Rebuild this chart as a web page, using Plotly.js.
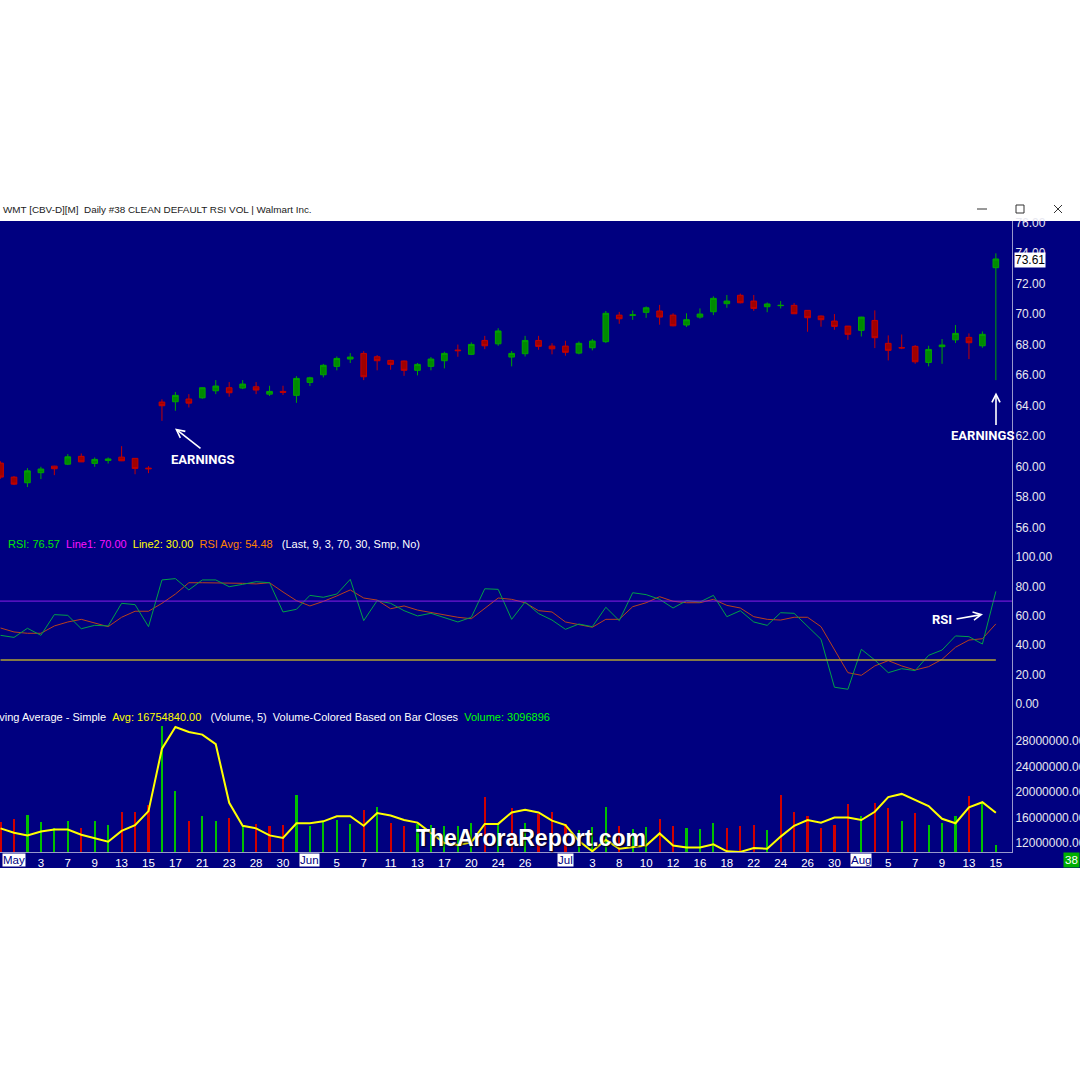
<!DOCTYPE html>
<html>
<head>
<meta charset="utf-8">
<script src="https://cdn.plot.ly/plotly-3.0.1.min.js"></script>
<style>
html,body{margin:0;padding:0;background:#ffffff;}
#chart{width:1080px;height:1080px;}
</style>
</head>
<body>
<div id="chart"></div>
<script>
// ---------------- DATA ----------------
const dates = [
 "2024-04-30","2024-05-01","2024-05-02","2024-05-03","2024-05-06","2024-05-07","2024-05-08","2024-05-09","2024-05-10",
 "2024-05-13","2024-05-14","2024-05-15","2024-05-16","2024-05-17","2024-05-20","2024-05-21","2024-05-22","2024-05-23","2024-05-24",
 "2024-05-28","2024-05-29","2024-05-30","2024-05-31","2024-06-03","2024-06-04","2024-06-05","2024-06-06","2024-06-07",
 "2024-06-10","2024-06-11","2024-06-12","2024-06-13","2024-06-14","2024-06-17","2024-06-18","2024-06-20","2024-06-21",
 "2024-06-24","2024-06-25","2024-06-26","2024-06-27","2024-06-28","2024-07-01","2024-07-02","2024-07-03","2024-07-05",
 "2024-07-08","2024-07-09","2024-07-10","2024-07-11","2024-07-12","2024-07-15","2024-07-16","2024-07-17","2024-07-18","2024-07-19",
 "2024-07-22","2024-07-23","2024-07-24","2024-07-25","2024-07-26","2024-07-29","2024-07-30","2024-07-31","2024-08-01","2024-08-02",
 "2024-08-05","2024-08-06","2024-08-07","2024-08-08","2024-08-09","2024-08-12","2024-08-13","2024-08-14","2024-08-15"
];
const openP  = [60.23,59.31,58.94,59.60,60.03,60.16,60.67,60.21,60.40,60.62,60.54,59.90,64.23,64.25,64.43,64.51,64.97,65.17,65.15,65.23,64.75,64.93,64.67,65.52,66.02,66.57,67.05,67.42,67.20,66.96,66.92,66.31,66.57,66.94,67.64,67.36,68.27,68.05,67.18,67.40,68.27,67.90,67.90,67.44,67.79,68.19,69.93,69.91,70.11,70.20,69.93,69.28,69.80,70.15,70.68,71.23,70.85,70.48,70.55,70.57,70.24,69.87,69.54,69.21,68.93,69.58,68.08,67.80,67.88,66.83,67.86,68.31,68.47,67.92,73.04];
const highP  = [60.35,59.38,59.90,59.99,60.05,60.82,60.86,60.60,60.60,61.34,60.56,60.03,64.41,64.89,64.75,65.20,65.67,65.54,65.67,65.54,65.30,65.30,65.93,65.89,66.73,67.22,67.44,67.57,67.31,67.00,66.95,66.79,67.18,67.53,68.00,68.14,68.57,69.07,67.57,68.57,68.57,68.09,68.25,68.20,68.36,70.20,70.14,70.23,70.50,70.60,70.05,70.05,70.37,71.16,71.25,71.34,71.25,70.76,70.85,70.72,70.24,69.90,70.00,69.22,69.82,70.24,68.60,68.66,67.97,67.92,68.36,69.28,68.73,68.86,73.98];
const lowP   = [59.20,58.79,58.66,59.18,59.44,60.10,60.30,59.99,60.20,60.36,59.50,59.57,63.00,63.66,63.88,64.45,64.75,64.58,65.08,64.75,64.63,64.70,64.18,65.28,65.85,66.31,66.79,65.67,66.31,66.35,65.95,65.98,66.31,66.44,67.20,67.31,67.70,67.92,66.57,67.22,67.66,67.36,67.27,67.36,67.62,68.10,69.36,69.62,69.75,69.30,69.20,69.15,69.70,69.93,70.41,70.70,70.21,70.12,70.37,70.00,68.84,69.17,68.97,68.31,68.53,67.77,66.96,67.70,66.74,66.57,66.74,68.10,67.05,67.79,65.67];
const closeP = [59.31,58.85,59.72,59.84,59.86,60.64,60.31,60.47,60.50,60.38,59.88,59.86,63.99,64.67,64.16,65.17,65.28,64.84,65.41,65.02,64.93,64.87,65.78,65.82,66.64,67.09,67.18,65.89,66.94,66.70,66.31,66.70,67.05,67.42,67.60,68.01,67.92,68.89,67.42,68.27,67.88,67.72,67.49,68.08,68.23,70.05,69.69,69.95,70.41,69.80,69.23,69.63,70.00,71.03,70.85,70.74,70.37,70.66,70.57,70.02,69.76,69.63,69.19,68.67,69.80,68.45,67.62,67.78,66.87,67.68,67.97,68.73,68.12,68.67,73.61];

const rsi    = [46.7,45.3,51.5,46.7,60.8,60.3,51.2,53.5,53.1,68.5,67.6,52.6,84.4,85.3,77.6,84.4,84.4,79.8,81.4,83.2,82.5,62.6,64.4,73.9,72.6,74.8,84.8,56.7,70.3,68.5,63.5,59.9,61.7,59.0,55.8,59.0,78.4,78.0,57.6,69.4,61.5,57.1,50.8,54.4,52.6,65.8,56.7,75.7,74.4,71.2,65.3,70.3,69.4,73.9,59.4,63.5,55.8,53.5,62.1,61.7,52.6,44.0,11.4,10.0,37.2,29.9,21.3,24.0,22.7,33.1,36.7,46.3,45.8,40.8,76.57];
const rsiAvg = [51.7,49.0,48.1,48.1,53.1,55.8,57.6,54.9,52.6,59.0,63.1,63.1,68.5,74.8,82.5,82.5,82.5,82.0,82.1,81.7,82.5,76.2,70.3,66.7,69.8,73.5,77.6,72.1,70.7,64.8,66.7,63.9,62.1,60.3,59.0,58.0,64.8,72.1,71.2,68.9,63.5,62.6,55.8,53.9,52.2,57.6,57.6,66.2,68.9,73.0,69.9,68.9,68.9,71.2,67.1,65.3,59.4,57.6,57.1,59.0,59.0,52.6,37.2,21.3,19.5,25.9,29.5,25.9,23.1,25.4,30.4,38.6,43.5,44.4,54.48];
const rsiLine1 = 70;
const rsiLine2 = 30;

const volume = [15.3e6,15.8e6,16.4e6,15.3e6,14.3e6,15.4e6,14.3e6,15.4e6,14.8e6,16.9e6,16.8e6,17.9e6,30.4e6,20.2e6,15.5e6,16.3e6,15.5e6,16.0e6,14.6e6,15.0e6,14.6e6,14.9e6,19.6e6,14.6e6,15.4e6,15.6e6,15.0e6,17.2e6,17.7e6,15.1e6,14.6e6,15.0e6,14.8e6,14.7e6,14.7e6,15.2e6,19.2e6,15.0e6,17.5e6,15.2e6,16.5e6,16.8e6,15.0e6,14.0e6,14.5e6,17.7e6,14.7e6,14.2e6,14.5e6,15.8e6,14.7e6,14.3e6,14.2e6,15.1e6,14.4e6,14.6e6,14.8e6,14.0e6,19.5e6,16.8e6,16.3e6,14.3e6,14.8e6,18.1e6,16.3e6,18.3e6,17.5e6,15.5e6,16.7e6,14.8e6,15.1e6,16.3e6,19.4e6,18.2e6,11.7e6];
const volAvg = [14.3e6,13.6e6,13.2e6,13.8e6,14.1e6,14.1e6,13.3e6,12.7e6,12.2e6,13.9e6,14.8e6,17.0e6,26.8e6,30.2e6,29.4e6,29.0e6,27.5e6,18.3e6,14.7e6,14.3e6,13.2e6,12.8e6,15.1e6,15.1e6,15.4e6,16.2e6,16.2e6,14.7e6,16.7e6,16.3e6,15.6e6,15.2e6,13.6e6,12.0e6,11.7e6,12.1e6,15.0e6,15.0e6,16.8e6,17.2e6,16.8e6,15.5e6,14.8e6,12.3e6,10.7e6,12.5e6,11.1e6,11.3e6,11.6e6,13.5e6,11.6e6,11.3e6,11.3e6,11.8e6,10.7e6,10.6e6,11.2e6,11.1e6,13.0e6,14.7e6,15.6e6,15.2e6,16.0e6,16.0e6,15.6e6,16.9e6,19.2e6,19.7e6,18.8e6,17.8e6,15.8e6,15.1e6,17.6e6,18.4e6,16754840];
const lastVolumeText = "3096896";

const dayTickDates = ["2024-05-03","2024-05-07","2024-05-09","2024-05-13","2024-05-15","2024-05-17","2024-05-21","2024-05-23","2024-05-28","2024-05-30",
 "2024-06-05","2024-06-07","2024-06-11","2024-06-13","2024-06-17","2024-06-20","2024-06-24","2024-06-26",
 "2024-07-03","2024-07-08","2024-07-10","2024-07-12","2024-07-16","2024-07-18","2024-07-22","2024-07-24","2024-07-26","2024-07-30",
 "2024-08-05","2024-08-07","2024-08-09","2024-08-13","2024-08-15"];
const dayTickLabels = ["3","7","9","13","15","17","21","23","28","30","5","7","11","13","17","20","24","26","3","8","10","12","16","18","22","24","26","30","5","7","9","13","15"];
const monthTickDates = ["2024-05-01","2024-06-03","2024-07-01","2024-08-01"];
const monthTickLabels = ["May","Jun","Jul","Aug"];

const priceTicks = [56,58,60,62,64,66,68,70,72,74,76];
const rsiTicks = [0,20,40,60,80,100];
const volTicks = [12e6,16e6,20e6,24e6,28e6];

// ---------------- LAYOUT HELPERS ----------------
const W = 1080, H = 1080;
const px = x => x / W;
const py = y => 1 - y / H;
const NAVY = "#000080";
const AXC = "#9898cc";
const LBL = "#e8e8f0";
const FONT = "Liberation Sans, Arial, sans-serif";
const NOTE_FONT = "Roboto, sans-serif";

const volColors = closeP.map((c, i) => (i > 0 && c >= closeP[i - 1]) ? "#00c000" : "#d00000");

const traces = [
  {
    type: "candlestick", x: dates, open: openP, high: highP, low: lowP, close: closeP,
    xaxis: "x", yaxis: "y",
    increasing: {line: {color: "#00a400", width: 1}, fillcolor: "#008a00"},
    decreasing: {line: {color: "#c40000", width: 1}, fillcolor: "#a00000"},
    whiskerwidth: 0, hoverinfo: "skip", showlegend: false
  },
  {
    type: "scatter", mode: "lines", x: dates, y: rsiAvg, xaxis: "x", yaxis: "y2",
    line: {color: "#b8401c", width: 1}, hoverinfo: "skip", showlegend: false
  },
  {
    type: "scatter", mode: "lines", x: dates, y: rsi, xaxis: "x", yaxis: "y2",
    line: {color: "#00a048", width: 1}, hoverinfo: "skip", showlegend: false
  },
  {
    type: "bar", x: dates, y: volume, xaxis: "x", yaxis: "y3", width: 0.16,
    marker: {color: volColors, line: {width: 0}}, hoverinfo: "skip", showlegend: false
  },
  {
    type: "scatter", mode: "lines", x: dates, y: volAvg, xaxis: "x", yaxis: "y3",
    line: {color: "#ffff00", width: 2}, hoverinfo: "skip", showlegend: false
  }
];

const step = 13.45; // px per trading day
const r0 = 1 - 14 / step;
const r1 = r0 + 1012 / step;

const axisY = (dom, extra) => Object.assign({
  domain: dom, side: "right", anchor: "x", showgrid: false, zeroline: false,
  showline: true, linecolor: AXC, linewidth: 1, ticks: "",
  tickfont: {family: FONT, size: 12, color: LBL}, fixedrange: true
}, extra);

const sp = n => "\u00a0".repeat(n);
const rsiHeader =
  `<span style="color:#00e800">RSI: ${rsi[rsi.length-1].toFixed(2)}</span>${sp(2)}` +
  `<span style="color:#ff10ff">Line1: ${rsiLine1.toFixed(2)}</span>${sp(2)}` +
  `<span style="color:#ffff00">Line2: ${rsiLine2.toFixed(2)}</span>${sp(2)}` +
  `<span style="color:#ff8000">RSI Avg: ${rsiAvg[rsiAvg.length-1].toFixed(2)}</span>${sp(3)}` +
  `<span style="color:#ffffff">(Last, 9, 3, 70, 30, Smp, No)</span>`;
const volHeader =
  `<span style="color:#ffffff">Moving Average - Simple</span>${sp(2)}` +
  `<span style="color:#ffff00">Avg: ${volAvg[volAvg.length-1].toFixed(2)}</span>${sp(3)}` +
  `<span style="color:#ffffff">(Volume, 5)${sp(2)}Volume-Colored Based on Bar Closes</span>${sp(2)}` +
  `<span style="color:#00ff00">Volume: ${lastVolumeText}</span>`;

const annotations = [
  {xref:"paper", yref:"paper", x:px(1), y:py(210), xanchor:"left", yanchor:"middle", showarrow:false,
   text:"WMT [CBV-D][M]" + sp(2) + "Daily #38 CLEAN DEFAULT RSI VOL | Walmart Inc.",
   font:{family:FONT, size:9.9, color:"#1a1a1a"}},
  {xref:"paper", yref:"paper", x:px(6), y:py(544), xanchor:"left", yanchor:"middle", showarrow:false,
   text: rsiHeader, font:{family:FONT, size:11, color:"#ffffff"}},
  {xref:"paper", yref:"paper", x:px(-18), y:py(717), xanchor:"left", yanchor:"middle", showarrow:false,
   text: volHeader, font:{family:FONT, size:11, color:"#ffffff"}},
  // EARNINGS 1
  {xref:"paper", yref:"paper", x:px(202), y:py(459.5), xanchor:"center", yanchor:"middle", showarrow:false,
   text:"EARNINGS", font:{family:NOTE_FONT, size:13, color:"#ffffff", weight:700}},
  {xref:"paper", yref:"paper", x:px(175), y:py(428.5), ax:27, ay:21, text:"",
   showarrow:true, arrowhead:5, arrowsize:1, arrowwidth:1.6, arrowcolor:"#ffffff"},
  // EARNINGS 2
  {xref:"paper", yref:"paper", x:px(982.5), y:py(435), xanchor:"center", yanchor:"middle", showarrow:false,
   text:"EARNINGS", font:{family:NOTE_FONT, size:13, color:"#ffffff", weight:700}},
  {xref:"paper", yref:"paper", x:px(996), y:py(392.5), ax:0, ay:34, text:"",
   showarrow:true, arrowhead:5, arrowsize:1, arrowwidth:1.6, arrowcolor:"#ffffff"},
  // RSI arrow
  {xref:"paper", yref:"paper", x:px(942), y:py(619), xanchor:"center", yanchor:"middle", showarrow:false,
   text:"RSI", font:{family:NOTE_FONT, size:13, color:"#ffffff", weight:700}},
  {xref:"paper", yref:"paper", x:px(983), y:py(614.3), ax:-28, ay:5, text:"",
   showarrow:true, arrowhead:5, arrowsize:1, arrowwidth:1.6, arrowcolor:"#ffffff"},
  // watermark
  {xref:"paper", yref:"paper", x:px(531), y:py(838), xanchor:"center", yanchor:"middle", showarrow:false,
   text:"TheAroraReport.com", font:{family:FONT, size:23, color:"#ffffff", weight:700, shadow:"1px 1px 2px #000000"}},
  // last price tag
  {xref:"paper", yref:"paper", x:px(1014), y:py(259.5), xanchor:"left", yanchor:"middle", showarrow:false,
   text: closeP[closeP.length-1].toFixed(2), bgcolor:"#ffffff", borderpad:0,
   font:{family:FONT, size:12, color:"#000000"}},
  // "38" badge
  {xref:"paper", yref:"paper", x:px(1080), y:py(860), xanchor:"right", yanchor:"middle", showarrow:false,
   text:"38", bgcolor:"#00b000", borderpad:1, font:{family:FONT, size:11.5, color:"#ffffff"}}
];
monthTickDates.forEach((d, i) => {
  annotations.push({xref:"x", yref:"paper", x:d, y:py(859.5), xanchor:"center", yanchor:"middle", showarrow:false,
    text: monthTickLabels[i], bgcolor:"#ffffff", borderpad:0,
    font:{family:FONT, size:11.5, color:NAVY}});
});

const shapes = [
  {type:"rect", xref:"paper", yref:"paper", x0:0, x1:1, y0:py(868), y1:py(221), fillcolor:NAVY, line:{width:0}, layer:"below"},
  {type:"line", xref:"paper", yref:"y2", x0:0, x1:px(1012), y0:rsiLine1, y1:rsiLine1, line:{color:"#8a1ee6", width:1}},
  {type:"line", xref:"x", yref:"y2", x0:dates[0], x1:dates[dates.length-1], y0:rsiLine2, y1:rsiLine2, line:{color:"#b0a232", width:1.5}},
  // window controls
  {type:"line", xref:"paper", yref:"paper", x0:px(977), x1:px(987), y0:py(209), y1:py(209), line:{color:"#333333", width:1}},
  {type:"rect", xref:"paper", yref:"paper", x0:px(1016), x1:px(1024), y0:py(213), y1:py(205), line:{color:"#333333", width:1}},
  {type:"line", xref:"paper", yref:"paper", x0:px(1054), x1:px(1062), y0:py(205), y1:py(213), line:{color:"#333333", width:1}},
  {type:"line", xref:"paper", yref:"paper", x0:px(1054), x1:px(1062), y0:py(213), y1:py(205), line:{color:"#333333", width:1}}
];

const layout = {
  width: W, height: H,
  margin: {l:0, r:0, t:0, b:0, pad:0},
  paper_bgcolor: "#ffffff", plot_bgcolor: "rgba(0,0,0,0)",
  showlegend: false, hovermode: false, dragmode: false,
  boxgap: 0.4, bargap: 0,
  xaxis: {
    type: "category", domain: [0, px(1012)], range: [r0, r1], anchor: "y3",
    tickmode: "array", tickvals: dayTickDates, ticktext: dayTickLabels,
    tickfont: {family: FONT, size: 11.5, color: "#ffffff"},
    showgrid: false, zeroline: false, showline: true, linecolor: AXC, linewidth: 1,
    ticks: "", rangeslider: {visible: false}, fixedrange: true
  },
  yaxis:  axisY([py(536), py(221)], {range: [55.45, 76.1], tickmode: "array", tickvals: priceTicks, tickformat: ".2f"}),
  yaxis2: axisY([py(710), py(536)], {range: [-4.1, 114.3], tickmode: "array", tickvals: rsiTicks, tickformat: ".2f"}),
  yaxis3: axisY([py(852), py(710)], {range: [10.59e6, 32.86e6], tickmode: "array", tickvals: volTicks, tickformat: ".2f"}),
  annotations: annotations,
  shapes: shapes
};

Plotly.newPlot("chart", traces, layout, {displayModeBar: false, staticPlot: true});
</script>
</body>
</html>
